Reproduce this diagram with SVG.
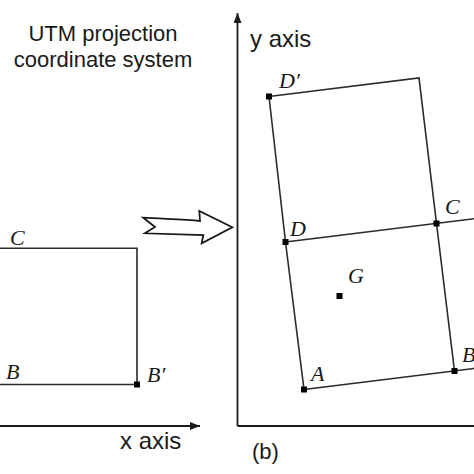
<svg xmlns="http://www.w3.org/2000/svg" width="474" height="474" viewBox="0 0 474 474">
<style>
.t{font-family:"Liberation Sans",Arial,sans-serif;fill:#1a1a1a}
.m{font-family:"Liberation Serif","Times New Roman",serif;font-style:italic;font-size:22px;fill:#1a1a1a}
.ln{stroke:#2a2a2a;stroke-width:1.6;fill:none}
.ax{stroke:#1a1a1a;stroke-width:1.8;fill:none}
.pt{fill:#000}
</style>
<defs>
<marker id="ah" viewBox="0 0 10 8" refX="10" refY="4" markerWidth="10" markerHeight="8" markerUnits="userSpaceOnUse" orient="auto">
<path d="M0,0 L10,4 L0,8 Z" fill="#1a1a1a"/>
</marker>
</defs>
<rect width="474" height="474" fill="#fff"/>
<g id="title">
<text class="t" x="103" y="41" font-size="22" text-anchor="middle">UTM projection</text>
<text class="t" x="103" y="67" font-size="22" text-anchor="middle">coordinate system</text>
</g>
<g id="connectors">
<path class="ax" d="M0,426 L200,426" marker-end="url(#ah)"/>
<path class="ax" d="M237.5,426 L237.5,13" marker-end="url(#ah)"/>
<path class="ax" d="M237.5,426 L474,426"/>
<path id="transform-arrow" d="M143.3,217.7 C165,219 185,219.5 200,221 L199.3,211 L232.3,227.3 L201.7,243.3 L203.3,235 C185,234.5 165,234 145,233.3 L155,227 Z" fill="#fff" stroke="#1a1a1a" stroke-width="1.8" stroke-linejoin="miter"/>
</g>
<g id="left-rect">
<path class="ln" d="M0,248.3 L137,248.3 L137,384.5 L0,384.5"/>
<rect class="pt" x="134" y="381.5" width="6" height="6"/>
<text class="m" x="10" y="245">C</text>
<text class="m" x="6" y="379">B</text>
<text class="m" x="147" y="382">B′</text>
</g>
<g id="right-grid">
<path class="ln" d="M269,96.5 L419,78 L436.5,223.5 L454.5,371"/>
<path class="ln" d="M269,96.5 L285.5,242 L304,389.5"/>
<path class="ln" d="M285.5,242 L474,218.8"/>
<path class="ln" d="M304,389.5 L474,368.5"/>
</g>
<g id="node-Dp">
<rect class="pt" x="266" y="93.5" width="6" height="6"/>
<text class="m" x="279" y="88">D′</text>
</g>
<g id="node-D">
<rect class="pt" x="282.5" y="239" width="6" height="6"/>
<text class="m" x="290" y="236">D</text>
</g>
<g id="node-C">
<rect class="pt" x="433.5" y="220.5" width="6" height="6"/>
<text class="m" x="445" y="214">C</text>
</g>
<g id="node-A">
<rect class="pt" x="301" y="386.5" width="6" height="6"/>
<text class="m" x="311" y="381">A</text>
</g>
<g id="node-B">
<rect class="pt" x="451.5" y="368" width="6" height="6"/>
<text class="m" x="462" y="362">B</text>
</g>
<g id="node-G">
<rect class="pt" x="336.5" y="293" width="6" height="6"/>
<text class="m" x="348" y="283">G</text>
</g>
<g id="labels">
<text class="t" x="250" y="47" font-size="24">y axis</text>
<text class="t" x="120" y="449" font-size="24">x axis</text>
<text class="t" x="252" y="459" font-size="22">(b)</text>
</g>
</svg>
